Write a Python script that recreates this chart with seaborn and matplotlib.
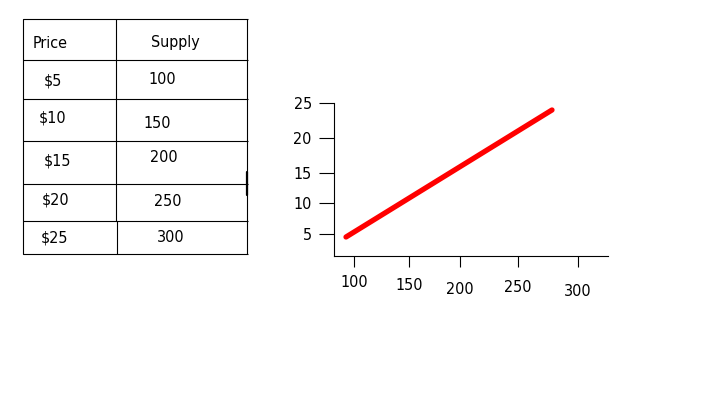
import matplotlib
matplotlib.use("Agg")
import matplotlib.pyplot as plt
from matplotlib.transforms import ScaledTranslation
import seaborn as sns
import pandas as pd

# ---- data ----
prices = [5, 10, 15, 20, 25]
supply = [100, 150, 200, 250, 300]
price_labels = ["$5", "$10", "$15", "$20", "$25"]
supply_labels = ["100", "150", "200", "250", "300"]
header = ["Price", "Supply"]
x_tick_labels = ["100", "150", "200", "250", "300"]
y_tick_labels = ["5", "10", "15", "20", "25"]

# ---- layout (hand-drawn positions of the reference) ----
W, H = 714, 407

sns.set_theme(style="white")
plt.rcParams["font.family"] = ["DejaVu Sans"]
plt.rcParams["font.stretch"] = "condensed"

fig = plt.figure(figsize=(W / 100, H / 100), dpi=100)
fig.patch.set_facecolor("white")

# overlay for the table (pixel coordinates)
ov = fig.add_axes([0, 0, 1, 1])
ov.set_xlim(0, W)
ov.set_ylim(H, 0)
ov.axis("off")

lw = 0.8
row_lines = [19, 60, 99, 141, 184, 221, 254]
for yy in row_lines:
    ov.plot([23, 248], [yy, yy], color="black", lw=lw, solid_capstyle="butt")
ov.plot([23, 23], [19, 254], color="black", lw=lw)
ov.plot([247, 247], [19, 254], color="black", lw=lw)
ov.plot([116, 116], [19, 221], color="black", lw=lw)
ov.plot([117, 117], [221, 254], color="black", lw=lw)
ov.plot([246.5, 246.5], [172, 195], color="black", lw=1.6)

fs = 11.5
kw = dict(fontsize=fs, ha="left", va="center", color="black", fontstretch="condensed")
ov.text(33, 43, header[0], **kw)
ov.text(151, 43, header[1], **kw)
px = [44, 39, 44, 42, 41]
py = [81, 118, 161, 200, 238]
sx = [148, 143, 150, 154, 157]
sy = [79, 124, 158, 201, 238]
for i in range(len(prices)):
    ov.text(px[i], py[i], price_labels[i], **kw)
    ov.text(sx[i], sy[i], supply_labels[i], **kw)

# ---- chart ----
L, R, T, B = 334, 608, 103, 256
ax = fig.add_axes([L / W, (H - B) / H, (R - L) / W, (B - T) / H])
df = pd.DataFrame({"Supply": supply, "Price": prices})
sns.lineplot(data=df, x="Supply", y="Price", ax=ax, color="#ff0000",
             linewidth=3.8, solid_capstyle="round")
ax.set_xlim(88.35, 354.37)
ax.set_ylim(2.008, 26.10)
ax.set_facecolor("white")
for s in ["top", "right"]:
    ax.spines[s].set_visible(False)
for s in ["left", "bottom"]:
    ax.spines[s].set_color("black")
    ax.spines[s].set_linewidth(lw)

ax.set_xticks([107.8, 161.2, 210.7, 267.0, 325.2])
ax.set_xticklabels(x_tick_labels, fontstretch="condensed")
ax.set_yticks([5.47, 10.35, 15.08, 20.59, 26.10])
ax.set_yticklabels(y_tick_labels, fontstretch="condensed")
ax.set_xlabel("")
ax.set_ylabel("")
ax.tick_params(axis="x", direction="out", length=8, width=lw, color="black",
               pad=6, labelsize=fs, labelcolor="black", bottom=True)
ax.tick_params(axis="y", direction="out", length=11, width=lw, color="black",
               pad=5, labelsize=fs, labelcolor="black", left=True)
x_off = [0, 3, 7, 5, 9]
for lbl, dy in zip(ax.get_xticklabels(), x_off):
    lbl.set_transform(lbl.get_transform() + ScaledTranslation(0, -dy / 100, fig.dpi_scale_trans))
ax.grid(False)

fig.savefig("out.png", dpi=100, facecolor="white")
